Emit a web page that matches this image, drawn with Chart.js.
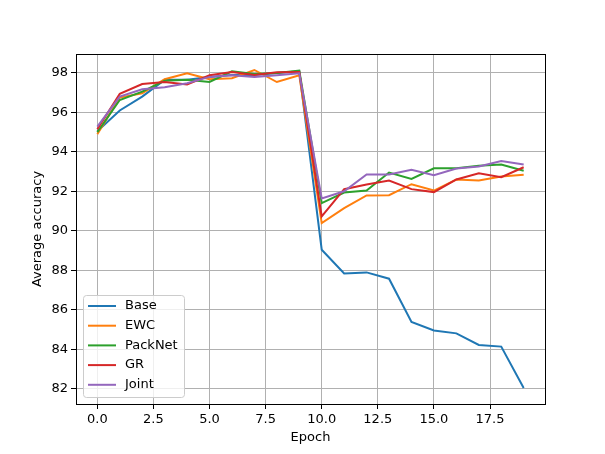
<!DOCTYPE html>
<html lang="en">
<head>
<meta charset="UTF-8" />
<title>Average accuracy per epoch</title>
<script src="https://cdn.jsdelivr.net/npm/chart.js"></script>
<style>
  body { margin: 0; background: #fff; }
  #wrap { width: 605px; height: 454px; }
</style>
</head>
<body>
<div id="wrap"><canvas id="chartAcc" width="605" height="454"></canvas></div>

<script>
// values
const epochs = [0, 1, 2, 3, 4, 5, 6, 7, 8, 9, 10, 11, 12, 13, 14, 15, 16, 17, 18, 19];
const base    = [95.05, 96.10, 96.80, 97.65, 97.65, 97.80, 97.90, 97.90, 98.00, 98.08, 89.04, 87.84, 87.89, 87.57, 85.38, 84.95, 84.80, 84.21, 84.13, 82.03];
const ewc     = [94.90, 96.75, 96.97, 97.68, 97.98, 97.68, 97.73, 98.15, 97.54, 97.88, 90.39, 91.15, 91.79, 91.80, 92.36, 92.04, 92.60, 92.55, 92.75, 92.84];
const packnet = [95.00, 96.63, 97.05, 97.61, 97.65, 97.54, 98.08, 97.95, 98.00, 98.12, 91.40, 91.94, 92.04, 92.95, 92.63, 93.17, 93.17, 93.29, 93.36, 93.04];
const gr      = [95.15, 96.94, 97.44, 97.54, 97.41, 97.88, 98.05, 97.90, 98.04, 98.05, 90.73, 92.11, 92.35, 92.55, 92.11, 91.96, 92.60, 92.92, 92.72, 93.22];
const joint   = [95.28, 96.80, 97.17, 97.27, 97.48, 97.80, 97.88, 97.80, 97.88, 97.98, 91.64, 92.00, 92.85, 92.85, 93.09, 92.82, 93.16, 93.26, 93.54, 93.36];

const seriesNames = ['Base', 'EWC', 'PackNet', 'GR', 'Joint'];
const xTicks = [0, 2.5, 5, 7.5, 10, 12.5, 15, 17.5];
const yTicks = [82, 84, 86, 88, 90, 92, 94, 96, 98];

const colores = ['#1f77b4', '#ff7f0e', '#2ca02c', '#d62728', '#9467bd'];
const FONT = "'DejaVu Sans', sans-serif";

function puntos(vals) {
  return vals.map((v, i) => ({ x: epochs[i], y: v }));
}

const series = [base, ewc, packnet, gr, joint];
const datasets = series.map((vals, i) => ({
  label: seriesNames[i],
  data: puntos(vals),
  borderColor: colores[i],
  backgroundColor: colores[i],
  borderWidth: 2,
  pointRadius: 0,
  tension: 0,
  order: series.length - i // later series drawn on top, like matplotlib
}));

// box around the axes (all 4 spines)
const marco = {
  id: 'marco',
  afterDatasetsDraw(chart) {
    const a = chart.chartArea, ctx = chart.ctx;
    ctx.save();
    ctx.strokeStyle = '#000';
    ctx.lineWidth = 1;
    ctx.strokeRect(Math.round(a.left) + 0.5, Math.round(a.top) + 0.5,
      Math.round(a.right - a.left), Math.round(a.bottom - a.top));
    ctx.restore();
  }
};

// legend drawn inside the plot, lower left
const leyenda = {
  id: 'leyenda',
  afterDraw(chart) {
    const ctx = chart.ctx, a = chart.chartArea;
    const x0 = a.left + 7, y1 = a.bottom - 7;
    const rowH = 19.7, w = 101, h = 102;
    const y0 = y1 - h;
    ctx.save();
    ctx.fillStyle = 'rgba(255,255,255,0.8)';
    ctx.strokeStyle = '#cccccc';
    ctx.lineWidth = 1;
    ctx.beginPath();
    ctx.roundRect(x0 + 0.5, y0 + 0.5, w, h, 3);
    ctx.fill();
    ctx.stroke();
    ctx.font = '13px ' + FONT;
    ctx.textBaseline = 'middle';
    chart.data.datasets.forEach((ds, i) => {
      const yy = y0 + 11 + i * rowH;
      ctx.strokeStyle = ds.borderColor;
      ctx.lineWidth = 2;
      ctx.beginPath();
      ctx.moveTo(x0 + 5, yy);
      ctx.lineTo(x0 + 33, yy);
      ctx.stroke();
      ctx.fillStyle = '#000';
      ctx.fillText(ds.label, x0 + 42, yy);
    });
    ctx.restore();
  }
};

const ctx = document.getElementById('chartAcc').getContext('2d');
new Chart(ctx, {
  type: 'line',
  data: { datasets },
  options: {
    responsive: false,
    animation: false,
    layout: { padding: { left: 30, top: 54, right: 60, bottom: 9 } },
    plugins: { legend: { display: false }, tooltip: { enabled: false } },
    scales: {
      x: {
        type: 'linear',
        min: -0.95,
        max: 19.95,
        afterBuildTicks(s) { s.ticks = xTicks.map(v => ({ value: v })); },
        afterFit(s) { s.height = 41; },
        grid: { color: '#b0b0b0', tickColor: '#000', tickLength: 5, lineWidth: 1 },
        border: { display: false },
        ticks: {
          color: '#000', font: { family: FONT, size: 13 }, padding: 3, maxRotation: 0,
          callback: v => v.toFixed(1)
        },
        title: { display: true, text: 'Epoch', color: '#000', font: { family: FONT, size: 13 }, padding: { top: 0, bottom: 0 } }
      },
      y: {
        type: 'linear',
        min: 81.22,
        max: 98.96,
        afterBuildTicks(s) { s.ticks = yTicks.map(v => ({ value: v })); },
        afterFit(s) { s.width = 46; },
        grid: { color: '#b0b0b0', tickColor: '#000', tickLength: 5, lineWidth: 1 },
        border: { display: false },
        ticks: {
          color: '#000', font: { family: FONT, size: 13 }, padding: 3,
          callback: v => String(v)
        },
        title: { display: true, text: 'Average accuracy', color: '#000', font: { family: FONT, size: 13 }, padding: { top: 0, bottom: 0 } }
      }
    }
  },
  plugins: [marco, leyenda]
});
</script>
</body>
</html>
